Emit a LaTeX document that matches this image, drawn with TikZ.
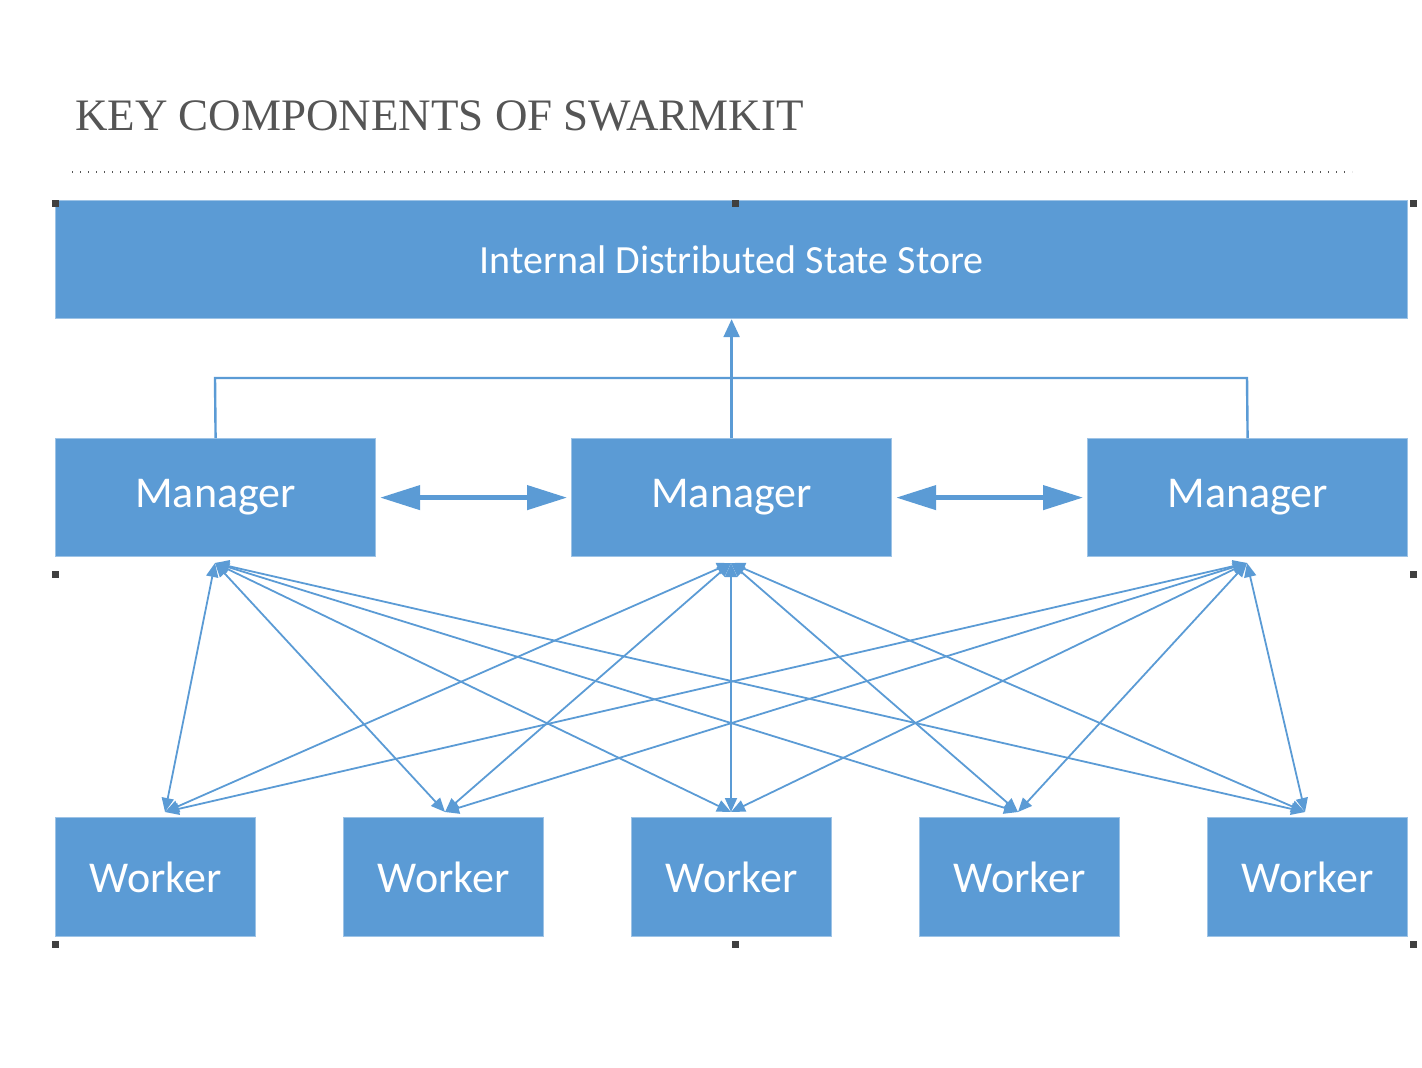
\documentclass[tikz,border=0pt]{standalone}
\usepackage{fontspec}
\setmainfont{Liberation Serif}
\newfontfamily\boxfont{Carlito}
\usetikzlibrary{arrows.meta}
\definecolor{bx}{HTML}{5B9BD5}
\definecolor{ttl}{HTML}{555555}
\begin{document}
\begin{tikzpicture}[x=0.5pt,y=-0.5pt,
 box/.style={fill=bx,draw=bx!60!white,line width=0.6pt,inner sep=0,anchor=north west,text=white,font=\boxfont\fontsize{22}{26}\selectfont},
 link/.style={bx,line width=0.9pt,{Triangle[width=6pt,length=7pt]}-{Triangle[width=6pt,length=7pt]}},
 handle/.style={fill=black!75,draw=none,minimum size=3.5pt,inner sep=0}]
\useasboundingbox (0,0) rectangle (1422,1067);
\node[anchor=base west,text=ttl,font=\fontsize{22.5}{26}\selectfont] (title) at (68,130) {KEY COMPONENTS OF SWARMKIT};
\draw[ttl,line width=1pt,dash pattern=on 0.6pt off 3.4pt] (72,172) -- (1352,172);
\node[box,minimum width=676pt,minimum height=59pt,font=\boxfont\fontsize{20}{24}\selectfont] (store) at (55,200) {Internal Distributed State Store};
\foreach \n/\x in {1/55,2/571,3/1087}
  \node[box,minimum width=160pt,minimum height=59pt] (m\n) at (\x,438) {Manager};
\foreach \n/\x in {1/55,2/343,3/631,4/919,5/1207}
  \node[box,minimum width=100pt,minimum height=59.5pt] (w\n) at (\x,817) {Worker};
% top bus
\coordinate (b1) at (215,378); \coordinate (b3) at (1247,378); \coordinate (b2) at (731,378);
\draw[bx,line width=1.2pt] (m1.north) -- (b1) -- (b3) -- (m3.north);
\draw[bx,line width=1.2pt,-{Triangle[width=8pt,length=9pt]}] (m2.north) -- (store.south);
% manager double arrows
\draw[bx,line width=2.2pt,{Triangle[width=12pt,length=20pt]}-{Triangle[width=12pt,length=20pt]}] ([xshift=2pt]m1.east) -- ([xshift=-2pt]m2.west);
\draw[bx,line width=2.2pt,{Triangle[width=12pt,length=20pt]}-{Triangle[width=12pt,length=20pt]}] ([xshift=2pt]m2.east) -- ([xshift=-2pt]m3.west);
% manager-worker links
\foreach \m/\mx in {1/215,2/731,3/1247}{
  \coordinate (mp\m) at (\mx,563);}
\foreach \w/\wx in {1/165,2/445,3/731,4/1018,5/1305}{
  \coordinate (wp\w) at (\wx,812);}
\foreach \m in {1,2,3}
  \foreach \w in {1,...,5}
    \draw[link] (mp\m) -- (wp\w);
% selection handles
\foreach \i/\x/\y in {1/55/203,2/735/203,3/1413/203,4/55/574,5/1413/574,6/55/944,7/735/944,8/1413/944}
  \node[handle] (h\i) at (\x,\y) {};
\end{tikzpicture}
\end{document}
